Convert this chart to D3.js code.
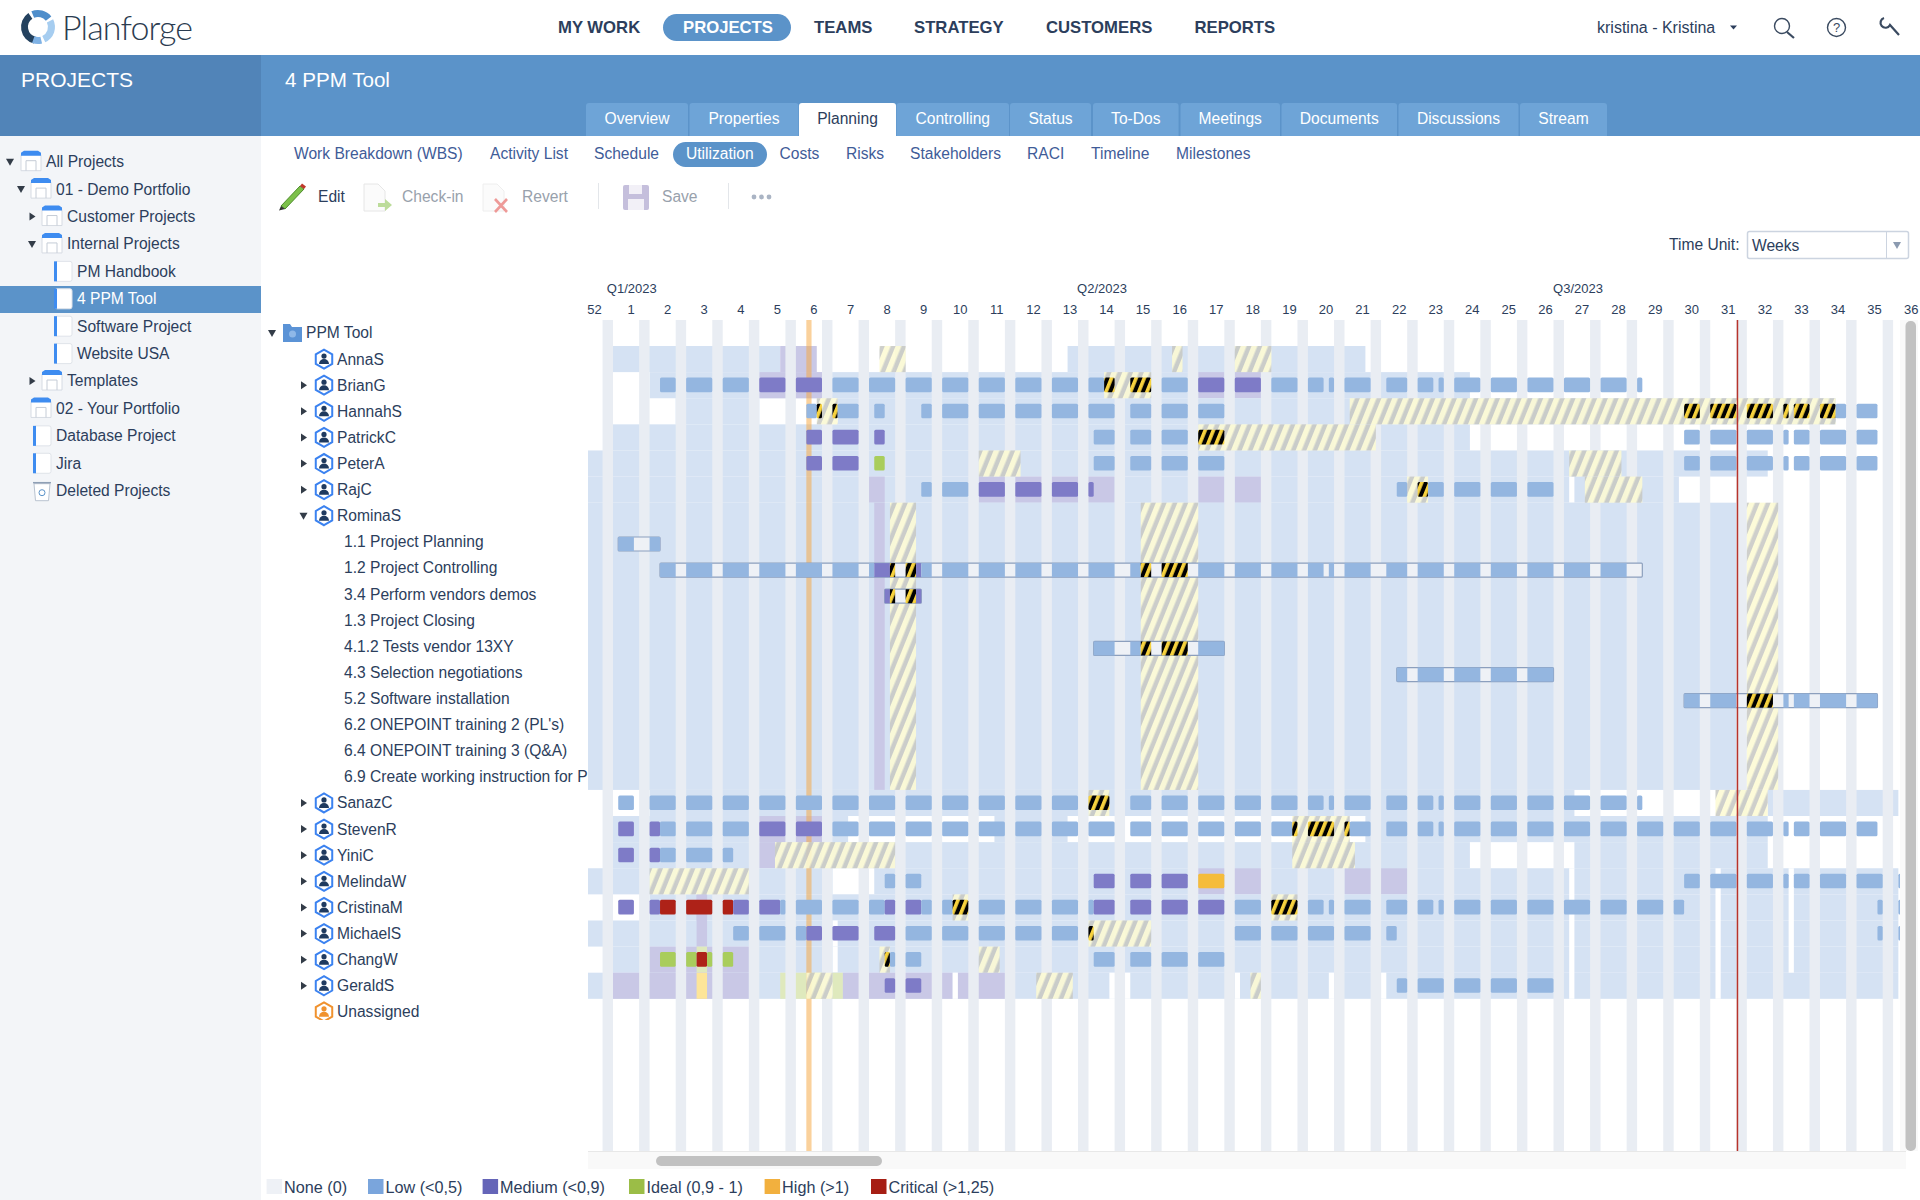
<!DOCTYPE html>
<html>
<head>
<meta charset="utf-8">
<script src="https://cdn.jsdelivr.net/npm/d3@7"></script>
<style>
html, body { margin: 0; padding: 0; background: #fff; }
svg { display: block; font-family: "Liberation Sans", sans-serif; }
</style>
</head>
<body>
<div id="chart"></div>
<script>
// values, all times in days counted from monday of week 1
const weekLabels = ["52","1","2","3","4","5","6","7","8","9","10","11","12","13","14","15","16","17","18","19","20","21","22","23","24","25","26","27","28","29","30","31","32","33","34","35","36"]
const quarterLabels = ["Q1/2023", "Q2/2023", "Q3/2023"]
const quarterDays = [3.6, 93.6, 184.7]
const legendLabels = ["None (0)", "Low (<0,5)", "Medium (<0,9)", "Ideal (0,9 - 1)", "High (>1)", "Critical (>1,25)"]
const legendColors = ["#eef1f6", "#7aa5dc", "#6565b8", "#9bbd47", "#f2b03e", "#a61e14"]
const barColors = ["#eef1f6", "#94b6e0", "#7e7bc7", "#a9cd5c", "#f5bc3b", "#ae2218"]
const toneColors = { b: "#d5e2f3", p: "#c9c8e6", g: "#dfe9bd", y: "#fde599", w: "#ffffff" }

const rowLabels = ["PPM Tool","AnnaS","BrianG","HannahS","PatrickC","PeterA","RajC","RominaS",
  "1.1 Project Planning","1.2 Project Controlling","3.4 Perform vendors demos","1.3 Project Closing",
  "4.1.2 Tests vendor 13XY","4.3 Selection negotiations","5.2 Software installation",
  "6.2 ONEPOINT training 2 (PL's)","6.4 ONEPOINT training 3 (Q&A)","6.9 Create working instruction for PPM Tool",
  "SanazC","StevenR","YiniC","MelindaW","CristinaM","MichaelS","ChangW","GeraldS","Unassigned"]
const expandedRows = [0, 7]
const leafPeople = [1, 26]
const taskRows = [8, 9, 10, 11, 12, 13, 14, 15, 16, 17]

// rowFrom, rowTo, dayFrom, dayTo, tone - painted in order
const loadBands = [
  [1,1,0,32,"b"],[1,1,32,39,"p"],[1,1,87,144,"b"],
  [2,2,7,164,"b"],[2,2,28,40,"p"],[2,2,112,117,"p"],[2,2,119,124,"p"],
  [3,3,12,28,"b"],[3,3,43,234,"b"],
  [4,4,0,164,"b"],
  [5,5,-5,221,"b"],
  [6,6,-5,204,"b"],[6,6,183,184,"w"],[6,6,49,52,"p"],[6,6,70,96,"p"],[6,6,112,117,"p"],[6,6,119,124,"p"],
  [7,17,-5,215,"b"],[7,17,50,52,"p"],
  [18,18,7,184,"b"],[18,18,221,246,"b"],
  [19,19,0,45,"b"],[19,19,73,87,"b"],[19,19,144,221,"b"],[19,19,28,40,"p"],
  [20,20,0,164,"b"],[20,20,184,221,"b"],[20,20,28,31,"p"],
  [21,21,-5,246,"b"],[21,21,42,50,"w"],[21,21,112,124,"p"],[21,21,140,152,"p"],
  [22,22,7,246,"b"],[22,23,16,18,"p"],
  [23,23,-5,246,"b"],[22,23,16,18,"p"],[23,24,42,43,"w"],
  [24,24,0,246,"b"],[24,24,7,26,"p"],[24,24,16,18,"g"],[24,24,42,43,"w"],
  [25,25,-5,246,"b"],[25,25,0,26,"p"],[25,25,16,18,"y"],[25,25,32,44,"g"],[25,25,44,65,"p"],[25,25,66,75,"p"],
  [25,25,65,66,"w"],[25,25,95,99,"w"],[25,25,119,120,"w"],[25,25,137,138,"w"],[25,25,147,148,"w"],
  [21,25,183,184,"w"],[21,25,211,212,"w"],[21,24,225,226,"w"]
]

// rowFrom, rowTo, dayFrom, dayTo
const overloadCells = [
  [1,1,51,56],[1,1,107,109],[1,1,119,126],[2,2,94,103],[3,3,39,43],[3,3,141,234],[4,4,112,146],
  [5,5,70,78],[5,5,183,193],[6,6,152,156],[6,6,186,197],[7,17,53,58],[7,17,101,112],[7,17,217,223],
  [18,18,91,95],[18,18,211,221],[19,19,130,141],[20,20,31,54],[20,20,130,142],[21,21,7,26],
  [22,22,65,68],[22,22,126,131],[23,23,91,103],[24,24,51,53],[24,24,70,74],[25,25,37,42],[25,25,81,88],[25,25,122,124]
]

// dayFrom, dayTo, level (1 low, 2 medium, 3 ideal, 4 high, 5 critical, 6 warning stripes)
const barsBrianG = [[9,12,1],[14,19,1],[21,26,1],[28,33,2],[35,40,2],[42,47,1],[49,54,1],[56,61,1],[63,68,1],[70,75,1],[77,82,1],[84,89,1],[91,94,1],[94,96,6],[99,103,6],[105,110,1],[112,117,2],[119,124,2],[126,131,1],[133,136,1],[137,138,1],[140,145,1],[148,152,1],[154,157,1],[158,159,1],[161,166,1],[168,173,1],[175,180,1],[182,187,1],[189,194,1],[196,197,1]]
const barsHannahS = [[37,39,1],[39,40,6],[42,43,6],[43,47,1],[50,52,1],[59,61,1],[63,68,1],[70,75,1],[77,82,1],[84,89,1],[91,96,1],[99,103,1],[105,110,1],[112,117,1],[205,208,6],[210,215,6],[217,222,6],[224,225,6],[226,229,6],[231,234,6],[234,236,1],[238,242,1]]
const barsPatrickC = [[37,40,2],[42,47,2],[50,52,2],[92,96,1],[99,103,1],[105,110,1],[112,117,6],[205,208,1],[210,215,1],[217,222,1],[224,225,1],[226,229,1],[231,236,1],[238,242,1]]
const barsPeterA = [[37,40,2],[42,47,2],[50,52,3],[92,96,1],[99,103,1],[105,110,1],[112,117,1],[205,208,1],[210,215,1],[217,222,1],[224,225,1],[226,229,1],[231,236,1],[238,242,1]]
const barsRajC = [[59,61,1],[63,68,1],[70,75,2],[77,82,2],[84,89,2],[91,92,2],[150,152,1],[154,156,6],[156,159,1],[161,166,1],[168,173,1],[175,180,1]]
const barsPlanning = [[1,4,1],[7,9,1]]
const barsControlling = [[9,12,1],[14,19,1],[21,26,1],[28,33,1],[35,40,1],[42,47,1],[49,50,1],[50,53,2],[53,54,6],[56,58,6],[58,59,2],[59,61,1],[63,68,1],[70,75,1],[77,82,1],[84,89,1],[91,96,1],[99,101,1],[101,103,6],[105,110,6],[112,117,1],[119,124,1],[126,131,1],[133,136,1],[137,138,1],[140,145,1],[148,152,1],[154,159,1],[161,166,1],[168,173,1],[175,180,1],[182,187,1],[189,194,1]]
const barsVendorDemos = [[52,53,2],[53,54,6],[56,58,6],[58,59,2]]
const barsTests = [[92,96,1],[99,101,1],[101,103,6],[105,110,6],[112,117,1]]
const barsNegotiations = [[150,152,1],[154,159,1],[161,166,1],[168,173,1],[175,180,1]]
const barsInstallation = [[205,208,1],[210,215,1],[217,222,6],[224,225,1],[226,229,1],[231,236,1],[238,242,1]]
const barsSanazC = [[1,4,1],[7,12,1],[14,19,1],[21,26,1],[28,33,1],[35,40,1],[42,47,1],[49,54,1],[56,61,1],[63,68,1],[70,75,1],[77,82,1],[84,89,1],[91,95,6],[99,103,1],[105,110,1],[112,117,1],[119,124,1],[126,131,1],[133,136,1],[137,138,1],[140,145,1],[148,152,1],[154,157,1],[158,159,1],[161,166,1],[168,173,1],[175,180,1],[182,187,1],[189,194,1],[196,197,1]]
const barsStevenR = [[1,4,2],[7,9,2],[9,12,1],[14,19,1],[21,26,1],[28,33,2],[35,40,2],[42,47,1],[49,54,1],[56,61,1],[63,68,1],[70,75,1],[77,82,1],[84,89,1],[91,96,1],[99,103,1],[105,110,1],[112,117,1],[119,124,1],[126,130,1],[130,131,6],[133,138,6],[140,141,6],[141,145,1],[148,152,1],[154,157,1],[158,159,1],[161,166,1],[168,173,1],[175,180,1],[182,187,1],[189,194,1],[196,201,1],[203,208,1],[210,215,1],[217,222,1],[224,225,1],[226,229,1],[231,236,1],[238,242,1]]
const barsYiniC = [[1,4,2],[7,9,2],[9,12,1],[14,19,1],[21,23,1]]
const barsMelindaW = [[52,54,1],[56,59,1],[92,96,2],[99,103,2],[105,110,2],[112,117,4],[205,208,1],[210,215,1],[217,222,1],[224,225,1],[226,229,1],[231,236,1],[238,243,1],[246,247,1]]
const barsCristinaM = [[1,4,2],[7,9,2],[9,12,5],[14,19,5],[21,23,5],[23,26,2],[28,32,2],[32,33,1],[35,40,1],[42,47,1],[49,52,1],[52,54,2],[56,59,2],[59,61,1],[63,65,1],[65,68,6],[70,75,1],[77,82,1],[84,89,1],[91,92,1],[92,96,2],[99,103,2],[105,110,2],[112,117,2],[119,124,1],[126,131,6],[133,136,1],[137,138,1],[140,145,1],[148,152,1],[154,157,1],[158,159,1],[161,166,1],[168,173,1],[175,180,1],[182,187,1],[189,194,1],[196,201,1],[203,205,1],[242,243,1],[246,247,1]]
const barsMichaelS = [[23,26,1],[28,33,1],[35,37,1],[37,40,2],[42,47,2],[50,54,2],[56,61,1],[63,68,1],[70,75,1],[77,82,1],[84,89,1],[91,92,6],[119,124,1],[126,131,1],[133,138,1],[140,145,1],[148,150,1],[242,243,1],[246,247,1]]
const barsChangW = [[9,12,3],[14,16,3],[16,18,5],[18,19,3],[21,23,3],[52,53,6],[53,54,1],[56,59,1],[92,96,1],[99,103,1],[105,110,1],[112,117,1]]
const barsGeraldS = [[52,54,2],[56,59,2],[150,152,1],[154,159,1],[161,166,1],[168,173,1],[175,180,1]]
const rowBars = [[2,barsBrianG],[3,barsHannahS],[4,barsPatrickC],[5,barsPeterA],[6,barsRajC],[8,barsPlanning],[9,barsControlling],[10,barsVendorDemos],[12,barsTests],[13,barsNegotiations],[14,barsInstallation],[18,barsSanazC],[19,barsStevenR],[20,barsYiniC],[21,barsMelindaW],[22,barsCristinaM],[23,barsMichaelS],[24,barsChangW],[25,barsGeraldS]]

// row, dayFrom, dayTo of the outlined task bars
const taskFrames = [[8,1,9],[9,9,197],[10,52,59],[12,92,117],[13,150,180],[14,205,242]]
const weekendStart = 5, weekendLength = 2
const todayDay = 215.2, statusDay = 37

const navItems = [["MY WORK",558],["PROJECTS",683],["TEAMS",814],["STRATEGY",914],["CUSTOMERS",1046],["REPORTS",1194.5]]
const tabItems = [["Overview",586,688],["Properties",689.5,798.5],["Planning",799,896],["Controlling",896.5,1009],["Status",1010,1091],["To-Dos",1093,1178.6],["Meetings",1180.5,1280],["Documents",1281.5,1397],["Discussions",1398.5,1518.5],["Stream",1520,1607]]
const subItems = [["Work Breakdown (WBS)",294],["Activity List",490],["Schedule",594],["Utilization",686],["Costs",779.5],["Risks",846],["Stakeholders",910],["RACI",1027],["Timeline",1091],["Milestones",1176]]
// label, text x, arrow (0 none, 1 open, 2 closed), icon (f folder, d doc, t trash), icon x
const treeItems = [["All Projects",46,1,"f",21,10],["01 - Demo Portfolio",56,1,"f",31,21],["Customer Projects",67,2,"f",42,32],["Internal Projects",67,1,"f",42,32],["PM Handbook",77,0,"d",54,0],["4 PPM Tool",77,0,"d",54,0],["Software Project",77,0,"d",54,0],["Website USA",77,0,"d",54,0],["Templates",67,2,"f",42,32],["02 - Your Portfolio",56,0,"f",31,0],["Database Project",56,0,"d",33,0],["Jira",56,0,"d",33,0],["Deleted Projects",56,0,"t",33,0]]

const ink = "#2c3e5c"
const svg = d3.select("#chart").append("svg").attr("width", 1920).attr("height", 1200)
const defs = svg.append("defs")

const x = d3.scaleLinear().domain([0, 243]).range([613, 613 + 243 * 5.225])
const rowY = d3.scaleLinear().domain([0, 25]).range([319.9, 972.7])
const rowH = rowY(1) - rowY(0)
const weekScale = d3.scaleLinear().domain([0, 36]).range([x(-3.64), x(248.36)])

function label(g, tx, ty, str, size, color, weight, anchor) {
  return g.append("text").attr("x", tx).attr("y", ty).attr("dy", ".35em")
    .attr("font-size", size).attr("fill", color || ink)
    .attr("font-weight", weight || null).attr("text-anchor", anchor || null).text(str)
}

// stripe patterns
function stripes(id, a, b, w, wa, angle) {
  const p = defs.append("pattern").attr("id", id).attr("patternUnits", "userSpaceOnUse")
    .attr("width", w).attr("height", w).attr("patternTransform", `rotate(${angle})`)
  p.append("rect").attr("width", w).attr("height", w).attr("fill", b)
  p.append("rect").attr("width", wa).attr("height", w).attr("fill", a)
}
stripes("hatch", "#fdfbd4", "#c8c9c4", 10, 5.5, 22)
stripes("warn", "#f7d23e", "#000000", 7.6, 3.6, 22)
defs.append("clipPath").attr("id", "plotClip").append("rect").attr("x", 588).attr("y", 320).attr("width", 1312).attr("height", 831)
defs.append("clipPath").attr("id", "treeClip").append("rect").attr("x", 261).attr("y", 320).attr("width", 327).attr("height", 700)

// ---- page chrome
svg.append("rect").attr("y", 55).attr("width", 1920).attr("height", 81).attr("fill", "#5b93c9")
svg.append("rect").attr("y", 55).attr("width", 261).attr("height", 81).attr("fill", "#5184b8")
svg.append("rect").attr("y", 136).attr("width", 261).attr("height", 1064).attr("fill", "#f3f5f8")

const logoArc = d3.arc().innerRadius(10).outerRadius(17)
const logo = svg.append("g").attr("transform", "translate(38,27)")
logo.append("path").attr("d", logoArc({ startAngle: -2.9, endAngle: -0.6 })).attr("fill", "#24425f")
logo.append("path").attr("d", logoArc({ startAngle: -0.4, endAngle: 0.9 })).attr("fill", "#4f8ecb")
logo.append("path").attr("d", logoArc({ startAngle: 1.1, endAngle: 2.7 })).attr("fill", "#a6cdf0")
logo.append("path").attr("d", logoArc({ startAngle: 2.9, endAngle: 3.5 })).attr("fill", "#7fb2e5")
svg.append("text").attr("x", 62).attr("y", 40).attr("font-family", "Lato").attr("font-weight", 300)
  .attr("font-size", 34).attr("fill", "#2b3c50").attr("textLength", 131).text("Planforge")

svg.append("rect").attr("x", 663).attr("y", 14).attr("width", 128).attr("height", 27).attr("rx", 13.5).attr("fill", "#5b93c9")
navItems.forEach(d => label(svg, d[1], 27.5, d[0], 16.7, d[0] == "PROJECTS" ? "#fff" : ink, "bold"))
label(svg, 1597, 27.5, "kristina - Kristina", 16, ink)
svg.append("path").attr("d", "M1730,25.5h7l-3.5,4z").attr("fill", ink)

// search, help and wrench icons
const icons = svg.append("g").attr("fill", "none").attr("stroke", "#3a4a60").attr("stroke-width", 1.4)
icons.append("circle").attr("cx", 1782).attr("cy", 26).attr("r", 7.5)
icons.append("path").attr("d", "M1787,32l7,6").attr("stroke-width", 2.2)
icons.append("circle").attr("cx", 1836.5).attr("cy", 27.5).attr("r", 9)
label(svg, 1836.5, 27.5, "?", 13, "#3a4a60", null, "middle")
icons.append("path").attr("d", "M1884,18a5,5 0 1 0 6,7l9,10").attr("stroke-width", 2.2)

label(svg, 21, 80, "PROJECTS", 21, "#fff")
label(svg, 285, 80, "4 PPM Tool", 20.6, "#fff")

tabItems.forEach(d => {
  const active = d[0] == "Planning"
  svg.append("path").attr("d", `M${d[1]},136V106a3,3 0 0 1 3,-3H${d[2] - 3}a3,3 0 0 1 3,3V136z`).attr("fill", active ? "#fff" : "#6ea4d7")
  label(svg, (d[1] + d[2]) / 2, 119, d[0], 15.6, active ? ink : "#fff", null, "middle")
})

svg.append("rect").attr("x", 673).attr("y", 142).attr("width", 94).attr("height", 25).attr("rx", 12.5).attr("fill", "#5b93c9")
subItems.forEach(d => label(svg, d[1], 154, d[0], 15.6, d[0] == "Utilization" ? "#fff" : "#3f5c98"))

// toolbar
svg.append("path").attr("d", "M281,206L300,186l4,3L285,209z").attr("fill", "#7cc04a").attr("stroke", "#4e8c2c")
svg.append("path").attr("d", "M279,210.5L281,206L285,209z").attr("fill", "#333")
svg.append("path").attr("d", "M300,186l2,-2.5l4,3l-2,2.5z").attr("fill", "#c0392b")
label(svg, 318, 197, "Edit", 15.6, ink)
svg.append("path").attr("d", "M364,184h14l7,7v20h-21z").attr("fill", "#fbfbfb").attr("stroke", "#e6e6e6")
svg.append("path").attr("d", "M378,203h7v-4l7,6l-7,6v-4h-7z").attr("fill", "#bcdc9a")
label(svg, 402, 197, "Check-in", 15.6, "#98a1ac")
svg.append("path").attr("d", "M483,184h14l7,7v20h-21z").attr("fill", "#fbfbfb").attr("stroke", "#eeeeee")
svg.append("path").attr("d", "M495,199l12,13M507,199l-12,13").attr("stroke", "#ee9a98").attr("stroke-width", 2.6)
label(svg, 522, 197, "Revert", 15.6, "#98a1ac")
svg.append("rect").attr("x", 598).attr("y", 183).attr("width", 1).attr("height", 26).attr("fill", "#e3e6ea")
svg.append("rect").attr("x", 623).attr("y", 185).attr("width", 26).attr("height", 25).attr("rx", 2).attr("fill", "#c5bfdc")
svg.append("rect").attr("x", 629).attr("y", 185).attr("width", 13).attr("height", 9).attr("fill", "#f2f0f7")
svg.append("rect").attr("x", 628).attr("y", 199).attr("width", 16).attr("height", 11).attr("fill", "#f2f0f7")
label(svg, 662, 197, "Save", 15.6, "#98a1ac")
svg.append("rect").attr("x", 728).attr("y", 183).attr("width", 1).attr("height", 26).attr("fill", "#e3e6ea")
svg.append("g").attr("fill", "#aab4c4").selectAll("circle").data([754, 761.5, 769]).join("circle")
  .attr("cx", d => d).attr("cy", 197).attr("r", 2.4)

label(svg, 1669, 245, "Time Unit:", 15.6, ink)
svg.append("rect").attr("x", 1747.5).attr("y", 231.5).attr("width", 161).attr("height", 27).attr("rx", 2).attr("fill", "#fff").attr("stroke", "#ccd4e0").attr("stroke-width", 1.5)
svg.append("path").attr("d", "M1886.5,232V258").attr("stroke", "#ccd4e0")
svg.append("path").attr("d", "M1893,242h8l-4,7z").attr("fill", "#8b9ab0")
label(svg, 1752, 245.5, "Weeks", 15.6, ink)

// ---- sidebar tree
function folderIcon(g, ix, cy) {
  g.append("path").attr("d", `M${ix},${cy - 7}h20v16h-20z`).attr("fill", "#fff").attr("stroke", "#d6dbe3")
  g.append("path").attr("d", `M${ix},${cy - 6}v-3l3,-2h14l3,2v3z`).attr("fill", "#3e8cf0")
  g.append("path").attr("d", `M${ix + 5},${cy + 9}v-10h10v10`).attr("fill", "none").attr("stroke", "#c5ccd6")
}
function docIcon(g, ix, cy) {
  g.append("rect").attr("x", ix + 1).attr("y", cy - 10).attr("width", 17).attr("height", 20).attr("rx", 2).attr("fill", "#fff").attr("stroke", "#dfe3e9")
  g.append("rect").attr("x", ix).attr("y", cy - 10).attr("width", 3).attr("height", 20).attr("fill", "#3e8cf0")
}
function trashIcon(g, ix, cy) {
  g.append("path").attr("d", `M${ix + 1},${cy - 7}h16l-1.5,17h-13z`).attr("fill", "#fff").attr("stroke", "#b9c3d0")
  g.append("path").attr("d", `M${ix},${cy - 8}h18`).attr("stroke", "#8fa0b5").attr("stroke-width", 1.5)
  g.append("circle").attr("cx", ix + 9).attr("cy", cy + 2).attr("r", 3).attr("fill", "none").attr("stroke", "#5b93c9")
}
function arrow(g, ax, cy, open) {
  g.append("path").attr("fill", "#333c48")
    .attr("d", open ? `M${ax - 4},${cy - 3}h8l-4,7z` : `M${ax - 2.5},${cy - 4}l6,4l-6,4z`)
}
svg.append("rect").attr("y", 286).attr("width", 261).attr("height", 27).attr("fill", "#5b93c9")
const treeY = d3.scaleLinear().domain([0, 12]).range([161.7, 490.7])
treeItems.forEach((d, i) => {
  const cy = treeY(i)
  if (d[2]) arrow(svg, d[5], cy, d[2] == 1)
  if (d[3] == "f") folderIcon(svg, d[4], cy)
  if (d[3] == "d") docIcon(svg, d[4], cy)
  if (d[3] == "t") trashIcon(svg, d[4], cy)
  label(svg, d[1], cy, d[0], 15.6, i == 5 ? "#fff" : ink)
})

// ---- plot
const plot = svg.append("g").attr("clip-path", "url(#plotClip)")

plot.append("g").selectAll("rect").data(loadBands).join("rect")
  .attr("x", d => x(d[2])).attr("width", d => x(d[3]) - x(d[2]))
  .attr("y", d => rowY(d[0])).attr("height", d => rowY(d[1] + 1) - rowY(d[0]))
  .attr("fill", d => toneColors[d[4]])

plot.append("g").selectAll("rect").data(weekLabels).join("rect")
  .attr("x", (d, i) => x((i - 1) * 7 + weekendStart)).attr("width", x(weekendLength) - x(0))
  .attr("y", 320).attr("height", 831).attr("fill", "#e9edf3")

plot.append("rect").attr("x", x(statusDay)).attr("width", x(1) - x(0)).attr("y", 320).attr("height", 831)
  .attr("fill", "#f5a742").attr("opacity", 0.52)

plot.append("g").attr("opacity", 0.88).selectAll("rect").data(overloadCells).join("rect")
  .attr("x", d => x(d[2])).attr("width", d => x(d[3]) - x(d[2]))
  .attr("y", d => rowY(d[0])).attr("height", d => rowY(d[1] + 1) - rowY(d[0]))
  .attr("fill", "url(#hatch)")

plot.append("g").selectAll("rect").data(taskFrames).join("rect")
  .attr("x", d => x(d[1])).attr("width", d => x(d[2]) - x(d[1]))
  .attr("y", d => rowY(d[0]) + 8.2).attr("height", 14).attr("rx", 1)
  .attr("fill", barColors[0]).attr("stroke", "#8c9fbd").attr("stroke-width", 1.2)

const barData = rowBars.flatMap(r => r[1].map(b => ({ row: r[0], from: b[0], to: b[1], level: b[2] })))
plot.append("g").selectAll("rect").data(barData).join("rect")
  .attr("x", d => x(d.from)).attr("width", d => x(d.to) - x(d.from))
  .attr("y", d => rowY(d.row) + (taskRows.includes(d.row) ? 8.2 : 5.5))
  .attr("height", d => taskRows.includes(d.row) ? 14 : 14.6)
  .attr("rx", d => taskRows.includes(d.row) ? 0 : 1.5)
  .attr("fill", d => d.level == 6 ? "url(#warn)" : barColors[d.level])

plot.append("rect").attr("x", x(todayDay) - 0.7).attr("width", 1.5).attr("y", 320).attr("height", 831).attr("fill", "#b8332b")

// ---- time axis
const weekAxis = d3.axisTop(weekScale).tickValues(weekLabels.map((d, i) => i)).tickFormat(i => weekLabels[i]).tickSize(0).tickPadding(0)
const axisG = svg.append("g").attr("transform", "translate(0,313.6)").call(weekAxis)
axisG.select(".domain").remove()
axisG.attr("font-family", null).attr("font-size", 13).selectAll("text").attr("fill", ink)
quarterLabels.forEach((d, i) => label(svg, x(quarterDays[i]), 288, d, 13, ink, null, "middle"))

// ---- resource tree
const rowsG = svg.append("g").attr("clip-path", "url(#treeClip)")
rowLabels.forEach((d, i) => {
  const cy = rowY(i) + rowH / 2
  const isTask = taskRows.includes(i)
  if (i == 0) {
    arrow(rowsG, 272, cy, true)
    rowsG.append("path").attr("d", `M283,${cy - 9}h7l2,3h10v15h-19z`).attr("fill", "#5b93d6")
    rowsG.append("circle").attr("cx", 292.5).attr("cy", cy + 1).attr("r", 3.5).attr("fill", "#8fb8e8")
    label(rowsG, 306, cy, d, 15.6, ink)
  } else if (isTask) {
    label(rowsG, 344, cy, d, 15.6, ink)
  } else {
    if (!(i == 1 || i == 26)) arrow(rowsG, 303.5, cy, expandedRows.includes(i))
    const hexColor = i == 26 ? "#f0922e" : "#3b82f0"
    const hex = d3.range(6).map(k => [324 + 9.5 * Math.sin(k * Math.PI / 3), cy + 9.5 * Math.cos(k * Math.PI / 3)])
    rowsG.append("path").attr("d", d3.line().curve(d3.curveLinearClosed)(hex)).attr("fill", "#fff").attr("stroke", hexColor).attr("stroke-width", 2)
    rowsG.append("circle").attr("cx", 324).attr("cy", cy - 3).attr("r", 2.6).attr("fill", i == 26 ? hexColor : "#1f3a5f")
    rowsG.append("path").attr("d", `M319,${cy + 5}a5,5 0 0 1 10,0z`).attr("fill", i == 26 ? hexColor : "#1f3a5f")
    label(rowsG, 337, cy, d, 15.6, ink)
  }
})

// ---- scrollbars
svg.append("rect").attr("x", 588).attr("y", 1151).attr("width", 1318).attr("height", 18).attr("fill", "#f9f9f9")
svg.append("rect").attr("x", 588).attr("y", 1151).attr("width", 1318).attr("height", 1).attr("fill", "#e8e8e8")
svg.append("rect").attr("x", 656).attr("y", 1156).attr("width", 226).attr("height", 10).attr("rx", 5).attr("fill", "#c1c1c1")
svg.append("rect").attr("x", 1900).attr("y", 320).attr("width", 18).attr("height", 831).attr("fill", "#f9f9f9")
svg.append("rect").attr("x", 1905.5).attr("y", 321).attr("width", 10.5).attr("height", 830).attr("rx", 5).attr("fill", "#c1c1c1")

// ---- legend
const legendX = [266.6, 368, 482.6, 629, 764.6, 871]
legendLabels.forEach((d, i) => {
  svg.append("rect").attr("x", legendX[i]).attr("y", 1179).attr("width", 15.5).attr("height", 15).attr("fill", legendColors[i])
  label(svg, legendX[i] + 17.5, 1187, d, 16.2, ink)
})
</script>
</body>
</html>
